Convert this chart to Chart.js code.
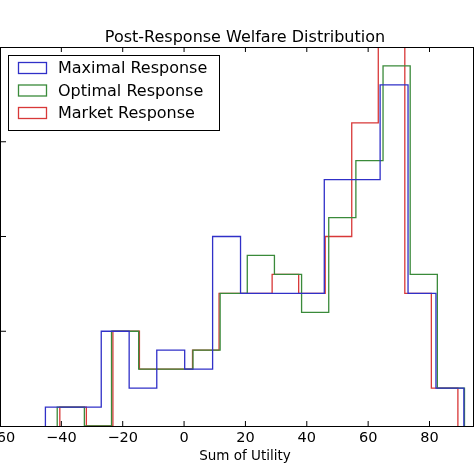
<!DOCTYPE html>
<html><head><meta charset="utf-8">
<script src="https://cdn.jsdelivr.net/npm/chart.js@4"></script>
<style>html,body{margin:0;padding:0;background:#fff}#w{width:474px;height:474px}</style>
</head><body><div id="w"><canvas id="c"></canvas></div>
<script>
const seriesNames = ["Maximal Response", "Optimal Response", "Market Response"];
const maximalEdges = [-45.2,-36.1,-27.0,-17.9,-8.9,0.2,9.3,18.4,27.5,36.6,45.7,54.8,63.9,73.0,82.1,91.2];
const maximalCounts = [1,1,5,2,4,3,10,7,7,7,13,13,18,7,2];
const optimalEdges = [-41.35,-32.5,-23.65,-14.8,-5.95,2.9,11.75,20.6,29.45,38.3,47.15,56,64.85,73.7,82.55,91.4];
const optimalCounts = [1,0,5,3,3,4,7,9,8,6,11,14,19,8,2];
const marketEdges = [-40.5,-31.85,-23.2,-14.55,-5.9,2.75,11.4,20.05,28.7,37.35,46,54.65,63.3,71.95,80.6,89.25];
const marketCounts = [1,0,5,3,3,4,7,7,8,7,10,16,22,7,2];
const xTicks = [-60,-40,-20,0,20,40,60,80];
const yTicks = [5,10,15];
const colors = ["#3030c8","#3a8a3a","#d83838"];

function stepPoints(edges, counts){
  const p=[{x:edges[0],y:0}];
  counts.forEach((c,i)=>{p.push({x:edges[i],y:c});p.push({x:edges[i+1],y:c});});
  p.push({x:edges[edges.length-1],y:0});
  return p;
}
const sets=[[maximalEdges,maximalCounts],[optimalEdges,optimalCounts],[marketEdges,marketCounts]];
const FONT='"DejaVu Sans", sans-serif';
const deco={id:'deco',afterDraw(ch){
  const g=ch.ctx,a=ch.chartArea,xs=ch.scales.x,ys=ch.scales.y;
  g.save();
  g.strokeStyle='#000';g.lineWidth=1;
  g.strokeRect(a.left+0.5,a.top+0.5,a.right-a.left-1,a.bottom-a.top);
  g.fillStyle='#000';g.font='14.5px '+FONT;g.textAlign='center';g.textBaseline='top';
  xTicks.forEach(v=>{const px=xs.getPixelForValue(v);
    g.beginPath();g.moveTo(px,a.bottom);g.lineTo(px,a.bottom-5);g.moveTo(px,a.top);g.lineTo(px,a.top+5);g.stroke();
    g.fillText(String(v).replace('-','\u2212'),px,a.bottom+5);});
  yTicks.forEach(v=>{const py=ys.getPixelForValue(v);
    g.beginPath();g.moveTo(a.left,py);g.lineTo(a.left+6,py);g.stroke();});
  g.font='13.5px '+FONT;g.fillText('Sum of Utility',245,a.bottom+24);
  g.font='16px '+FONT;g.textBaseline='alphabetic';g.fillText('Post-Response Welfare Distribution',245,42);
  // legend
  g.fillStyle='#fff';g.fillRect(8.5,55.5,211,75);g.strokeStyle='#000';g.strokeRect(8.5,55.5,211,75);
  g.textAlign='left';g.textBaseline='middle';g.font='16px '+FONT;
  seriesNames.forEach((n,i)=>{const y=68+i*22.5;
    g.strokeStyle=colors[i];g.lineWidth=1.3;g.strokeRect(18.5,y-5.5,28,11);
    g.fillStyle='#000';g.fillText(n,58,y+1);});
  g.restore();
}};
new Chart(document.getElementById('c'),{
  type:'scatter',
  data:{datasets:sets.map((s,i)=>({label:seriesNames[i],data:stepPoints(s[0],s[1]),showLine:true,
    borderColor:colors[i],borderWidth:1.3,pointRadius:0,fill:false,tension:0}))},
  options:{responsive:true,maintainAspectRatio:false,animation:false,
    layout:{padding:{left:0,right:0,top:47,bottom:48}},
    plugins:{legend:{display:false},tooltip:{enabled:false}},
    scales:{x:{type:'linear',min:-60,max:94.5,display:false},
            y:{min:0,max:20,display:false}}},
  plugins:[deco]
});
</script></body></html>
